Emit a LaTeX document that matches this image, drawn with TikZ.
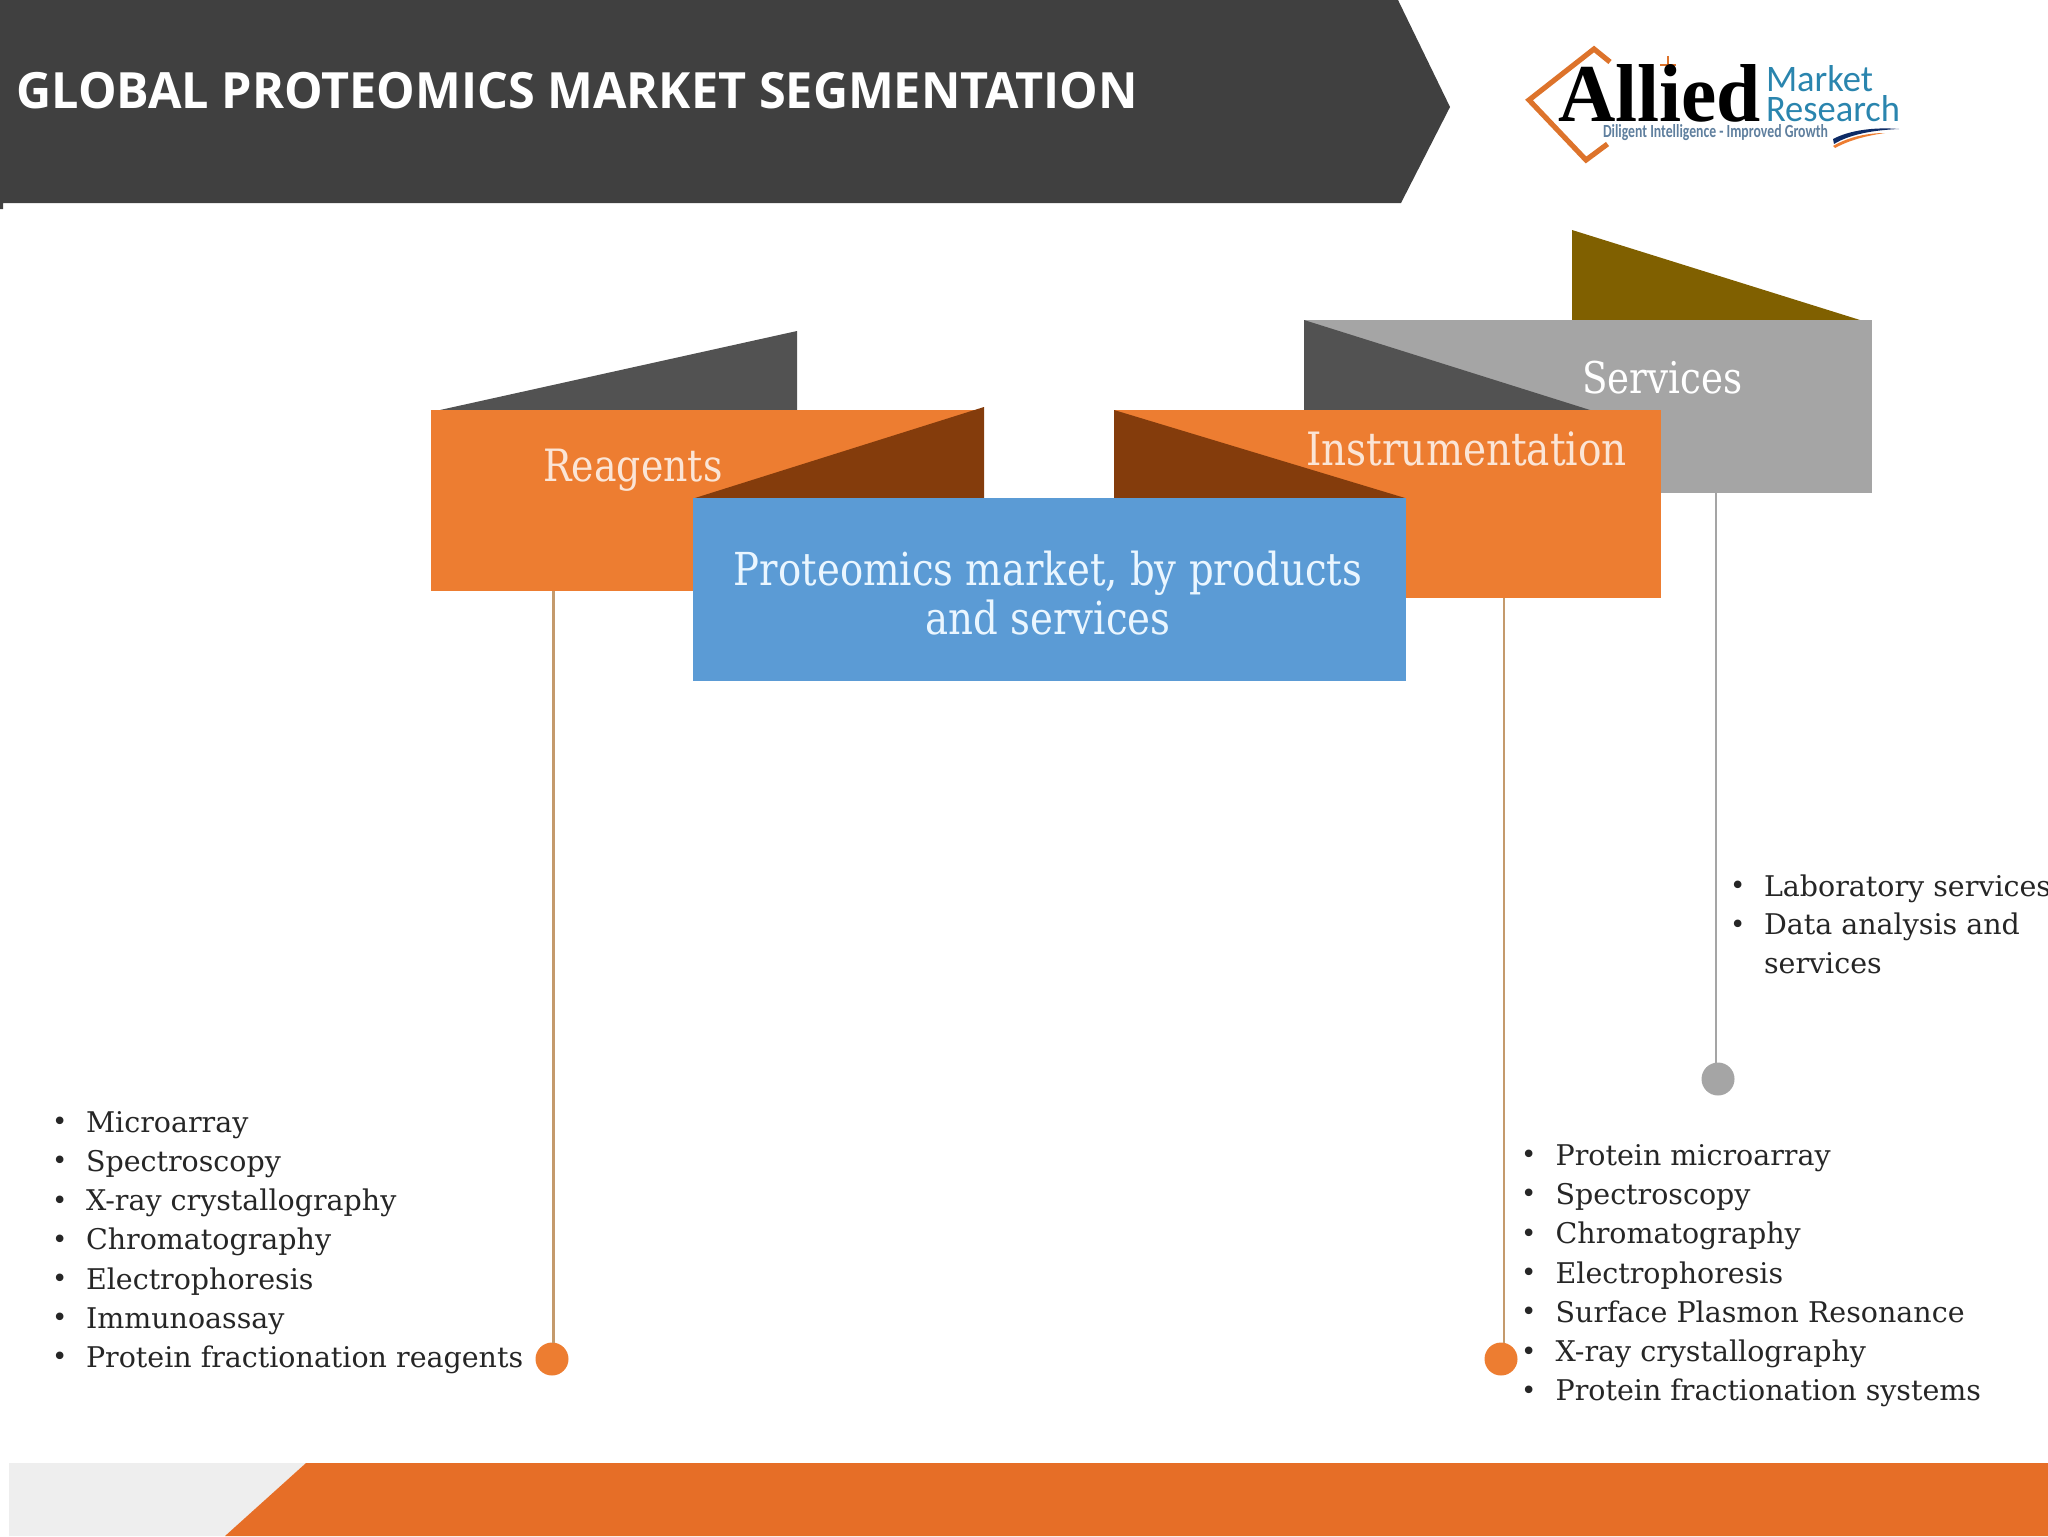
\documentclass[tikz,border=0pt]{standalone}
\usepackage{fontspec}
\usepackage{graphicx}
\setmainfont{DejaVu Serif}[FakeStretch=0.85]
\newfontfamily\listfont{DejaVu Serif}
\newfontfamily\titlefont{Open Sans}[FakeStretch=0.971]
\newfontfamily\logoserif{Liberation Serif}
\newfontfamily\logosans{Carlito}
\definecolor{hdr}{HTML}{404040}
\definecolor{darktri}{HTML}{525252}
\definecolor{orng}{HTML}{ED7D31}
\definecolor{brown}{HTML}{843C0C}
\definecolor{blu}{HTML}{5B9BD5}
\definecolor{gry}{HTML}{A5A5A5}
\definecolor{gold}{HTML}{806000}
\definecolor{barorng}{HTML}{E66E27}
\definecolor{bargry}{HTML}{EEEEEE}
\definecolor{linetan}{HTML}{C49A6C}
\definecolor{lbltxt}{HTML}{FBE5D6}
\definecolor{bluetxt}{HTML}{EAF6FF}
\definecolor{teal}{HTML}{2A85AE}
\definecolor{tagc}{HTML}{5F7F9E}
\newcommand{\blt}[1]{\makebox[#1][l]{\hspace{1pt}\raisebox{0.6pt}{\fontsize{13}{13}\selectfont •}}}
\tikzset{
  box/.style={anchor=north west,inner sep=0,outer sep=0,draw=none},
  li/.style={anchor=base west,inner sep=0,outer sep=0,text=black!85,font=\listfont\fontsize{14.25}{14.25}\selectfont},
  lab/.style={anchor=base,inner sep=0,outer sep=0,font=\fontsize{20}{20}\selectfont},
  dot/.style={circle,inner sep=0,minimum size=16.5pt,outer sep=0},
  conn/.style={line width=1.25pt},
  logot/.style={anchor=base west,inner sep=0,outer sep=0}
}
\begin{document}
\begin{tikzpicture}[x=0.5pt,y=-0.5pt]
\useasboundingbox (0,0) rectangle (2048,1536);
% header
\fill[hdr] (0,0) -- (1398,0) -- (1450,107) -- (1401,203) -- (3,203) -- (3,209) -- (0,209) -- cycle;
\node[anchor=base west,inner sep=0,text=white,font=\titlefont\bfseries\fontsize{25}{25}\selectfont] (title) at (16,109) {GLOBAL PROTEOMICS MARKET SEGMENTATION};
% logo
\draw[orng!85!brown,line width=2.6pt,line join=miter] (1610,62) -- (1594,49) -- (1529,100) -- (1586,160) -- (1607.5,144);
\draw[orng!85!brown,line width=0.6pt] (1668,56) -- (1668,74) (1660,65) -- (1676,65);
\node[logot,text=black] (allied) at (1558,122) {\resizebox{101.5pt}{28.5pt}{\logoserif\bfseries Allied}};
\node[logot,text=teal] (market) at (1766,91) {\resizebox{53.5pt}{13pt}{\logosans Market}};
\node[logot,text=teal] (research) at (1766,122) {\resizebox{67pt}{13pt}{\logosans Research}};
\node[logot,text=tagc] (tag) at (1603,137) {\resizebox{112.5pt}{6.5pt}{\logosans\bfseries Diligent Intelligence - Improved Growth}};
\fill[orng] (1833,146) .. controls (1850,136) and (1870,133) .. (1885,133) .. controls (1865,136) and (1850,140) .. (1835,148) -- cycle;
\fill[blue!35!teal!50!black] (1833,139) .. controls (1850,130) and (1875,127) .. (1899,129) .. controls (1875,130) and (1850,134) .. (1834,144) -- cycle;
% services
\fill[gold] (1572,230) -- (1860,320) -- (1572,320) -- cycle;
\node[box,fill=gry,minimum width=284pt,minimum height=86.5pt] (servbox) at (1304,320) {};
\fill[darktri] (1304,320) -- (1590,410) -- (1304,410) -- cycle;
% reagents
\fill[darktri] (440,410) -- (797,331) -- (797,410) -- cycle;
\node[box,fill=orng,minimum width=276pt,minimum height=90.5pt] (reagbox) at (431,410) {};
% instrumentation
\node[box,fill=orng,minimum width=273.5pt,minimum height=94pt] (instbox) at (1114,410) {};
% brown flaps
\fill[brown] (984,407) -- (984,498) -- (695,498) -- cycle;
\fill[brown] (1114,410) -- (1405,498) -- (1114,498) -- cycle;
% centre
\node[box,fill=blu,minimum width=356.5pt,minimum height=91.5pt] (centre) at (693,498) {};
% labels
\node[lab,text=lbltxt] (l1) at (633,481) {\resizebox{89.5pt}{!}{Reagents}};
\node[lab,text=lbltxt] (l2) at (1466.5,465) {\resizebox{160.5pt}{!}{Instrumentation}};
\node[lab,text=white] (l3) at (1662.5,393) {\resizebox{80pt}{!}{Services}};
\node[lab,text=bluetxt] (l4) at (1048,585) {\resizebox{314pt}{!}{Proteomics market, by products}};
\node[lab,text=bluetxt] (l5) at (1048,634) {\resizebox{122.5pt}{!}{and services}};
% connectors
\node[dot,fill=orng] (rdot) at (552,1359) {};
\node[dot,fill=orng] (idot) at (1501,1359) {};
\node[dot,fill=gry] (sdot) at (1718,1079) {};
\coordinate (rtop) at (553.6,591);
\coordinate (itop) at (1504,598);
\coordinate (stop) at (1716,493);
\draw[conn,linetan] (rtop) -- (rtop |- rdot.north);
\draw[conn,linetan] (itop) -- (itop |- idot.north);
\draw[conn,gry] (stop) -- (stop |- sdot.north);
% left list
\node[li] (a1) at (50,1132) {\blt{18pt}Microarray};
\node[li] (a2) at (50,1171) {\blt{18pt}Spectroscopy};
\node[li] (a3) at (50,1210.5) {\blt{18pt}X-ray crystallography};
\node[li] (a4) at (50,1249.5) {\blt{18pt}Chromatography};
\node[li] (a5) at (50,1289) {\blt{18pt}Electrophoresis};
\node[li] (a6) at (50,1328) {\blt{18pt}Immunoassay};
\node[li] (a7) at (50,1367) {\blt{18pt}Protein fractionation reagents};
% middle list
\node[li] (b1) at (1519,1165) {\blt{18.3pt}Protein microarray};
\node[li] (b2) at (1519,1204) {\blt{18.3pt}Spectroscopy};
\node[li] (b3) at (1519,1243.5) {\blt{18.3pt}Chromatography};
\node[li] (b4) at (1519,1283) {\blt{18.3pt}Electrophoresis};
\node[li] (b5) at (1519,1322) {\blt{18.3pt}Surface Plasmon Resonance};
\node[li] (b6) at (1519,1361.5) {\blt{18.3pt}X-ray crystallography};
\node[li] (b7) at (1519,1400.5) {\blt{18.3pt}Protein fractionation systems};
% right list
\node[li] (c1) at (1728,896) {\blt{18pt}Laboratory services};
\node[li] (c2) at (1728,934.5) {\blt{18pt}Data analysis and};
\node[li] (c3) at (1764,973) {services};
% bottom bar
\fill[bargry] (9,1463) -- (306,1463) -- (225,1536) -- (9,1536) -- cycle;
\fill[barorng] (306,1463) -- (2048,1463) -- (2048,1536) -- (225,1536) -- cycle;
\end{tikzpicture}
\end{document}
